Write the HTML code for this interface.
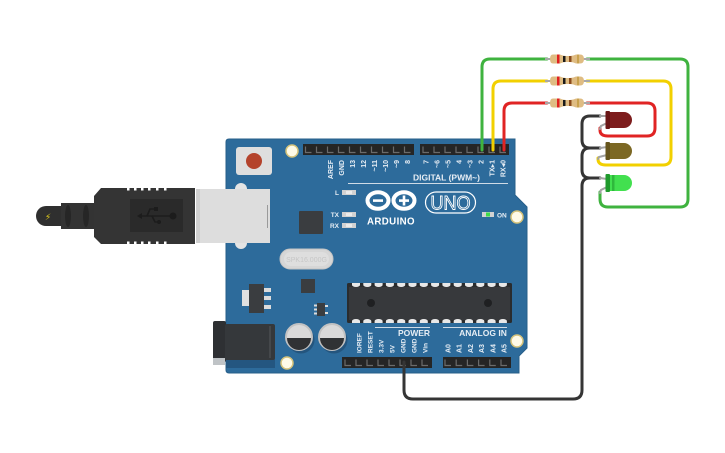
<!DOCTYPE html>
<html><head><meta charset="utf-8"><style>
html,body{margin:0;padding:0;background:#fff;}
svg{display:block;}
text{font-family:"Liberation Sans","DejaVu Sans",sans-serif;}
</style></head><body>
<svg width="725" height="453" viewBox="0 0 725 453" xmlns="http://www.w3.org/2000/svg">
<rect width="725" height="453" fill="#fff"/>

<!-- BOARD -->
<path d="M229,139 H515 V195 L527,207 V348 L519,356 V373 H229 Q226,373 226,370 V142 Q226,139 229,139 Z" fill="#2d6b9b" stroke="#275f8a" stroke-width="1"/>

<!-- holes -->
<g fill="#fffbe8" stroke="#d6c47c" stroke-width="1.5">
<circle cx="292" cy="151" r="6"/>
<circle cx="517" cy="217" r="6"/>
<circle cx="517" cy="341" r="6"/>
<circle cx="287" cy="363" r="6"/>
</g>

<!-- reset button -->
<rect x="236" y="147" width="36" height="28" rx="3" fill="#dedede"/>
<circle cx="254" cy="161" r="8" fill="#b4432c"/>

<!-- USB bumps on board -->
<circle cx="241" cy="189" r="6" fill="#e4e4e4"/>
<circle cx="241" cy="243" r="6" fill="#e4e4e4"/>

<!-- USB cable -->
<path d="M61,206 H46 A10,10 0 0 0 46,226 H61 Z" fill="#2f2f2f"/>
<text x="48" y="220" font-size="9" fill="#e8d21a" text-anchor="middle">⚡</text>
<rect x="61" y="203" width="33" height="26" fill="#333"/>
<ellipse cx="68" cy="216" rx="3" ry="11" fill="#262626"/>
<ellipse cx="86" cy="216" rx="3" ry="11" fill="#262626"/>
<polygon points="94,196 101,188 195,188 195,244 101,244 94,237" fill="#343434"/>
<g fill="#fff">
<rect x="127" y="188" width="2.5" height="2.5"/><rect x="134" y="188" width="2.5" height="2.5"/><rect x="141" y="188" width="2.5" height="2.5"/><rect x="148" y="188" width="2.5" height="2.5"/><rect x="156" y="188" width="2.5" height="2.5"/><rect x="164" y="188" width="2.5" height="2.5"/>
<rect x="127" y="241.5" width="2.5" height="2.5"/><rect x="134" y="241.5" width="2.5" height="2.5"/><rect x="141" y="241.5" width="2.5" height="2.5"/><rect x="148" y="241.5" width="2.5" height="2.5"/><rect x="156" y="241.5" width="2.5" height="2.5"/><rect x="164" y="241.5" width="2.5" height="2.5"/>
</g>
<rect x="130" y="199" width="53" height="33" fill="#2a2a2a"/>
<g stroke="#1c1c1c" stroke-width="1.6" fill="none">
<line x1="140" y1="216" x2="172" y2="216"/>
<polyline points="147,216 150,209 155,209"/>
<polyline points="152,216 155,222 158,222"/>
</g>
<polygon points="137,216 142,213 142,219" fill="#1c1c1c"/>
<circle cx="173" cy="216" r="3.5" fill="#1c1c1c"/>
<rect x="154" y="207" width="4" height="4" fill="#1c1c1c"/>
<circle cx="159" cy="222" r="2" fill="#1c1c1c"/>
<rect x="196" y="189" width="74" height="54" fill="#dddddd"/>
<rect x="196" y="189" width="4" height="54" fill="#cfcfcf"/>
<line x1="267.5" y1="205" x2="267.5" y2="228" stroke="#9a9a9a" stroke-width="1"/>

<!-- 16U2 chip -->
<rect x="299" y="211" width="24" height="23" rx="1" fill="#3a3d40"/>

<!-- L TX RX LEDs -->
<g fill="#d2d2d2">
<rect x="342" y="190" width="14" height="5"/>
<rect x="342" y="212" width="14" height="5"/>
<rect x="342" y="223" width="14" height="5"/>
</g>
<g fill="#ececec">
<rect x="346" y="191" width="6" height="3"/>
<rect x="346" y="213" width="6" height="3"/>
<rect x="346" y="224" width="6" height="3"/>
</g>
<g font-size="6.5" font-weight="bold" fill="#e6edf4" text-anchor="end">
<text x="339" y="195">L</text>
<text x="339" y="217">TX</text>
<text x="339" y="228">RX</text>
</g>

<!-- Arduino logo -->
<g fill="none" stroke="#fff" stroke-width="4">
<ellipse cx="378" cy="200.5" rx="10.5" ry="8.3"/>
<ellipse cx="404" cy="200.5" rx="10.5" ry="8.3"/>
</g>
<rect x="373" y="199.3" width="10" height="2.6" fill="#fff"/>
<rect x="399" y="199.3" width="10" height="2.6" fill="#fff"/>
<rect x="402.7" y="195.5" width="2.6" height="10" fill="#fff"/>
<text x="391" y="224.5" font-size="9.7" font-weight="bold" fill="#fff" text-anchor="middle" letter-spacing="0.4">ARDUINO</text>
<rect x="425.5" y="192" width="50" height="21" rx="10.5" fill="none" stroke="#fff" stroke-width="1.2"/>
<text x="450.5" y="209.5" font-size="19" fill="none" stroke="#fff" stroke-width="0.9" text-anchor="middle" textLength="40" lengthAdjust="spacingAndGlyphs">UNO</text>

<!-- ON led -->
<rect x="482" y="212" width="12" height="5" fill="#d2d2d2"/>
<rect x="486" y="212.5" width="4" height="4" fill="#3fdc4a"/>
<text x="497" y="217.5" font-size="6.5" font-weight="bold" fill="#e6edf4">ON</text>

<!-- top headers -->
<rect x="303" y="144" width="111" height="11" fill="#252525"/>
<rect x="420" y="144" width="89" height="11" fill="#252525"/>
<g stroke="#6b6b6b" stroke-width="1.2" fill="none">
<path d="M305.5,146.5 V152.5 H311.5 M316.5,146.5 V152.5 H322.5 M327.5,146.5 V152.5 H333.5 M338.5,146.5 V152.5 H344.5 M349.5,146.5 V152.5 H355.5 M360.5,146.5 V152.5 H366.5 M371.5,146.5 V152.5 H377.5 M382.5,146.5 V152.5 H388.5 M393.5,146.5 V152.5 H399.5 M404.5,146.5 V152.5 H410.5"/>
<path d="M423,146.5 V152.5 H429 M434,146.5 V152.5 H440 M445,146.5 V152.5 H451 M456,146.5 V152.5 H462 M467,146.5 V152.5 H473 M478,146.5 V152.5 H484 M489,146.5 V152.5 H495 M500,146.5 V152.5 H506"/>
</g>
<g font-size="7" font-weight="bold" fill="#e6edf4" text-anchor="end">
<text transform="translate(333,160) rotate(-90)">AREF</text>
<text transform="translate(344,160) rotate(-90)">GND</text>
<text transform="translate(355,160) rotate(-90)">13</text>
<text transform="translate(366,160) rotate(-90)">12</text>
<text transform="translate(377,160) rotate(-90)">~11</text>
<text transform="translate(388,160) rotate(-90)">~10</text>
<text transform="translate(399,160) rotate(-90)">~9</text>
<text transform="translate(410,160) rotate(-90)">8</text>
<text transform="translate(428.5,160) rotate(-90)">7</text>
<text transform="translate(439.5,160) rotate(-90)">~6</text>
<text transform="translate(450.5,160) rotate(-90)">~5</text>
<text transform="translate(461.5,160) rotate(-90)">4</text>
<text transform="translate(472.5,160) rotate(-90)">~3</text>
<text transform="translate(483.5,160) rotate(-90)">2</text>
<text transform="translate(494.5,160) rotate(-90)">TX▸1</text>
<text transform="translate(505.5,160) rotate(-90)">RX◂0</text>
</g>
<text x="446.5" y="180.5" font-size="8.5" font-weight="bold" fill="#e6edf4" text-anchor="middle">DIGITAL (PWM~)</text>
<line x1="348" y1="183.5" x2="508" y2="183.5" stroke="#cfdbe6" stroke-width="1"/>

<!-- crystal -->
<rect x="280" y="249" width="53" height="20" rx="10" fill="#d6d6d6" stroke="#c4c4c4" stroke-width="1"/>
<rect x="284" y="252" width="45" height="14" rx="7" fill="#dedede"/>
<text x="306.5" y="262" font-size="7" fill="#c6c6c6" text-anchor="middle">SPK16.000G</text>

<!-- regulator -->
<rect x="242" y="290" width="8" height="16" fill="#e0e0e0"/>
<rect x="249" y="284" width="15" height="29" fill="#3a3d40"/>
<g fill="#dcdcdc">
<rect x="264" y="288" width="7" height="4"/>
<rect x="264" y="296" width="7" height="4"/>
<rect x="264" y="305" width="7" height="4"/>
</g>
<!-- small chips -->
<rect x="301" y="279" width="14" height="14" fill="#3a3d40"/>
<rect x="317" y="303" width="8" height="13" fill="#3a3d40"/>
<g fill="#dcdcdc">
<rect x="314" y="304.5" width="3" height="2"/><rect x="314" y="308.5" width="3" height="2"/><rect x="314" y="312.5" width="3" height="2"/>
<rect x="325" y="305" width="3" height="2"/><rect x="325" y="312" width="3" height="2"/>
</g>

<!-- ATmega328 -->
<rect x="347" y="283" width="165" height="40" rx="1.5" fill="#2a2c2e"/>
<rect x="349" y="287" width="161" height="33" fill="#37393c"/>
<g fill="#e8e8e8">
<path d="M352,283 h8 v2 a4,2 0 0 1 -8,0 z M363.3,283 h8 v2 a4,2 0 0 1 -8,0 z M374.6,283 h8 v2 a4,2 0 0 1 -8,0 z M385.9,283 h8 v2 a4,2 0 0 1 -8,0 z M397.2,283 h8 v2 a4,2 0 0 1 -8,0 z M408.5,283 h8 v2 a4,2 0 0 1 -8,0 z M419.8,283 h8 v2 a4,2 0 0 1 -8,0 z M431.1,283 h8 v2 a4,2 0 0 1 -8,0 z M442.4,283 h8 v2 a4,2 0 0 1 -8,0 z M453.7,283 h8 v2 a4,2 0 0 1 -8,0 z M465,283 h8 v2 a4,2 0 0 1 -8,0 z M476.3,283 h8 v2 a4,2 0 0 1 -8,0 z M487.6,283 h8 v2 a4,2 0 0 1 -8,0 z M498.9,283 h8 v2 a4,2 0 0 1 -8,0 z"/>
<path d="M352,323 h8 v-2 a4,2 0 0 0 -8,0 z M363.3,323 h8 v-2 a4,2 0 0 0 -8,0 z M374.6,323 h8 v-2 a4,2 0 0 0 -8,0 z M385.9,323 h8 v-2 a4,2 0 0 0 -8,0 z M397.2,323 h8 v-2 a4,2 0 0 0 -8,0 z M408.5,323 h8 v-2 a4,2 0 0 0 -8,0 z M419.8,323 h8 v-2 a4,2 0 0 0 -8,0 z M431.1,323 h8 v-2 a4,2 0 0 0 -8,0 z M442.4,323 h8 v-2 a4,2 0 0 0 -8,0 z M453.7,323 h8 v-2 a4,2 0 0 0 -8,0 z M465,323 h8 v-2 a4,2 0 0 0 -8,0 z M476.3,323 h8 v-2 a4,2 0 0 0 -8,0 z M487.6,323 h8 v-2 a4,2 0 0 0 -8,0 z M498.9,323 h8 v-2 a4,2 0 0 0 -8,0 z"/>
</g>
<circle cx="371" cy="303" r="4" fill="#1f2022"/>
<circle cx="488" cy="303" r="4" fill="#1f2022"/>

<!-- DC jack -->
<rect x="226" y="330" width="49" height="38" fill="#245680"/>
<rect x="213" y="321" width="13" height="41" rx="2" fill="#2e3033"/>
<rect x="213" y="358" width="12" height="7" fill="#bfc3c6"/>
<rect x="225" y="324" width="50" height="36" rx="2" fill="#35383b"/>
<line x1="270" y1="326" x2="270" y2="358" stroke="#55585b" stroke-width="1"/>

<!-- capacitors -->
<circle cx="301" cy="340" r="13.5" fill="#24557e"/>
<circle cx="334" cy="340" r="13.5" fill="#24557e"/>
<g>
<circle cx="299" cy="337" r="13" fill="#d9d9d9" stroke="#c2c2c2" stroke-width="2"/>
<path d="M287,338 H311 A12,12 0 0 1 287,338 Z" fill="#303234"/>
<circle cx="332" cy="337" r="13" fill="#d9d9d9" stroke="#c2c2c2" stroke-width="2"/>
<path d="M320,338 H344 A12,12 0 0 1 320,338 Z" fill="#303234"/>
</g>

<!-- POWER / ANALOG -->
<text x="414" y="336" font-size="8.5" font-weight="bold" fill="#e6edf4" text-anchor="middle">POWER</text>
<text x="483" y="336" font-size="8.5" font-weight="bold" fill="#e6edf4" text-anchor="middle">ANALOG IN</text>
<line x1="375" y1="327.5" x2="430" y2="327.5" stroke="#cfdbe6" stroke-width="1"/>
<line x1="443" y1="327.5" x2="507" y2="327.5" stroke="#cfdbe6" stroke-width="1"/>
<g font-size="6.5" font-weight="bold" fill="#e6edf4" text-anchor="start">
<text transform="translate(361.5,353) rotate(-90)">IOREF</text>
<text transform="translate(372.5,353) rotate(-90)">RESET</text>
<text transform="translate(383.5,353) rotate(-90)">3.3V</text>
<text transform="translate(394.5,353) rotate(-90)">5V</text>
<text transform="translate(405.5,353) rotate(-90)">GND</text>
<text transform="translate(416.5,353) rotate(-90)">GND</text>
<text transform="translate(427.5,353) rotate(-90)">Vin</text>
</g>
<g font-size="7" font-weight="bold" fill="#e6edf4" text-anchor="start">
<text transform="translate(450.5,353) rotate(-90)">A0</text>
<text transform="translate(461.7,353) rotate(-90)">A1</text>
<text transform="translate(472.9,353) rotate(-90)">A2</text>
<text transform="translate(484.1,353) rotate(-90)">A3</text>
<text transform="translate(495.3,353) rotate(-90)">A4</text>
<text transform="translate(506.5,353) rotate(-90)">A5</text>
</g>
<rect x="342" y="357" width="90" height="11" fill="#252525"/>
<rect x="443" y="357" width="68" height="11" fill="#252525"/>
<g stroke="#6b6b6b" stroke-width="1.2" fill="none">
<path d="M345,359.5 V365.5 H351 M356,359.5 V365.5 H362 M367,359.5 V365.5 H373 M378,359.5 V365.5 H384 M389,359.5 V365.5 H395 M400,359.5 V365.5 H406 M411,359.5 V365.5 H417 M422,359.5 V365.5 H428"/>
<path d="M445,359.5 V365.5 H451 M456.2,359.5 V365.5 H462.2 M467.4,359.5 V365.5 H473.4 M478.6,359.5 V365.5 H484.6 M489.8,359.5 V365.5 H495.8 M501,359.5 V365.5 H507"/>
</g>

<!-- WIRES -->
<g fill="none" stroke-width="3" stroke-linecap="round" stroke-linejoin="round">
<path d="M482,150 V67 Q482,59 490,59 H547 M587,59 H680 Q688,59 688,67 V199 Q688,207 680,207 H608 Q600,207 600,199 V192" stroke="#3fb33f"/>
<path d="M493,150 V89 Q493,81 501,81 H547 M587,81 H663 Q671,81 671,89 V157 Q671,165 663,165 H606 Q598,165 598,159 V158" stroke="#f2d000"/>
<path d="M504,150 V111 Q504,103 512,103 H547 M587,103 H647 Q655,103 655,111 V128 Q655,136 647,136 H608 Q600,136 600,130 V128" stroke="#e02424"/>
<path d="M600,116 H590 Q582,116 582,124 V140 Q582,148 590,148 H600 M590,148 Q582,148 582,156 V170 Q582,178 590,178 H600 M590,178 Q582,178 582,186 V390 Q582,399 573,399 H413 Q404,399 404,390 V362" stroke="#353535"/>
</g>

<!-- resistors -->
<g id="res">
<line x1="545" y1="59" x2="590" y2="59" stroke="#a8a8a8" stroke-width="2"/>
<path d="M553,54.5 H560 Q563,56 566,56 H570 Q573,56 576,54.5 H580 Q584,54.5 584,59 Q584,63.5 580,63.5 H576 Q573,62 570,62 H566 Q563,62 560,63.5 H553 Q550,63.5 550,59 Q550,54.5 553,54.5 Z" fill="#dfbc83"/>
<rect x="557" y="54.5" width="2.5" height="9" fill="#e0201f"/>
<rect x="563" y="56" width="2.5" height="6" fill="#1a1a1a"/>
<rect x="569" y="56" width="2.5" height="6" fill="#8a4a1c"/>
<rect x="577" y="54.5" width="2" height="9" fill="#c9a24e"/>
</g>
<use href="#res" y="22"/>
<use href="#res" y="44"/>

<!-- LED leads -->
<g stroke="#a3a3a3" stroke-width="2" fill="none" stroke-linecap="round">
<line x1="600" y1="116" x2="607" y2="116"/>
<line x1="600" y1="148" x2="607" y2="147"/>
<line x1="600" y1="178" x2="607" y2="179"/>
<polyline points="600,129 601,126 607,123"/>
<polyline points="598,159 599,157 607,155"/>
<polyline points="600,193 601,190 607,187"/>
</g>

<!-- LEDs -->
<path d="M608,112 H624 A8,8 0 0 1 624,128 H608 Z" fill="#7d1d1d"/>
<rect x="605.5" y="111" width="4.5" height="18" rx="1" fill="#6a1616"/>
<path d="M608,143 H624 A8,8 0 0 1 624,159 H608 Z" fill="#7c6824"/>
<rect x="605.5" y="142" width="4.5" height="18" rx="1" fill="#66551c"/>
<path d="M608,175 H624 A8,8 0 0 1 624,191 H608 Z" fill="#42e04f"/>
<rect x="605.5" y="174" width="4.5" height="18" rx="1" fill="#1f9a2c"/>
<rect x="612" y="175" width="2.5" height="16" fill="#2fb83c"/>
</svg>
</body></html>
